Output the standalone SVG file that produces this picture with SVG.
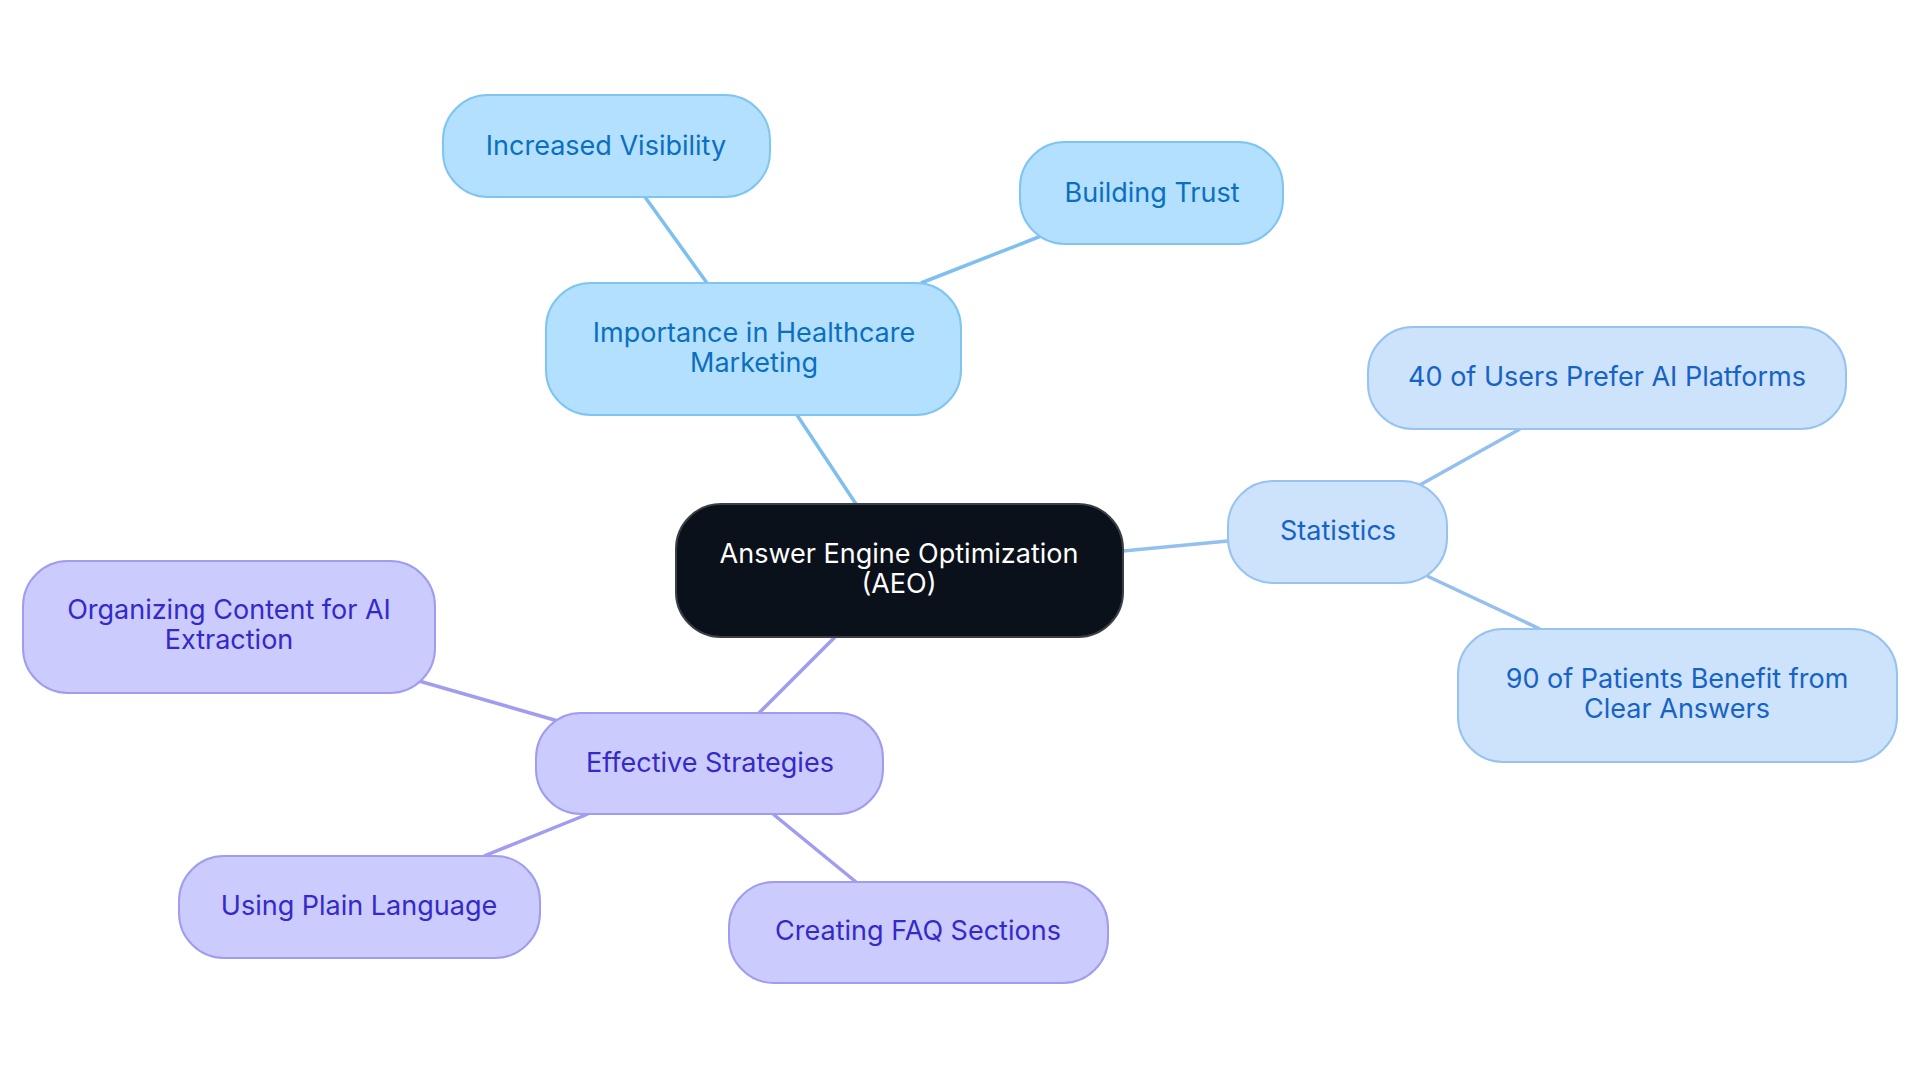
<svg xmlns="http://www.w3.org/2000/svg" width="1920" height="1083" viewBox="0 0 1920 1083">
<style>
text{font-family:Inter,"Noto Sans",sans-serif;font-size:27px;text-anchor:middle;dominant-baseline:central}
.b rect{fill:#b3e0ff;stroke:#7fc5f2;stroke-width:2}.b text{fill:#0b6fc0}
.s rect{fill:#cce3fb;stroke:#97c3f0;stroke-width:2}.s text{fill:#1762c6}
.p rect{fill:#cbcbfd;stroke:#a09cf0;stroke-width:2}.p text{fill:#3429c9}
.c rect{fill:#0b111a;stroke:#3a3f46;stroke-width:2}.c text{fill:#fff}
#edges line{stroke-width:3.5;fill:none}
</style>
<rect width="1920" height="1083" fill="#fff"/>
<g id="edges">
<line x1="856" y1="504" x2="797" y2="415" stroke="#7dbfef"/>
<line x1="707" y1="283" x2="645" y2="197" stroke="#7dbfef"/>
<line x1="921" y1="283" x2="1041" y2="236" stroke="#7dbfef"/>
<line x1="1123" y1="551" x2="1228" y2="541" stroke="#93c0ef"/>
<line x1="1418" y1="486" x2="1520" y2="429" stroke="#93c0ef"/>
<line x1="1427" y1="576" x2="1540" y2="629" stroke="#93c0ef"/>
<line x1="835" y1="637" x2="759" y2="713" stroke="#a09cf0"/>
<line x1="558" y1="721" x2="419" y2="681" stroke="#a09cf0"/>
<line x1="588" y1="814" x2="484" y2="856" stroke="#a09cf0"/>
<line x1="773" y1="814" x2="856" y2="882" stroke="#a09cf0"/>
</g>
<g id="center" class="c"><rect x="676" y="504" width="447" height="133" rx="45"/><text x="899" y="553">Answer Engine Optimization</text><text x="899" y="583">(AEO)</text></g>
<g id="importance" class="b"><rect x="546" y="283" width="415" height="132" rx="45"/><text x="754" y="332">Importance in Healthcare</text><text x="754" y="362">Marketing</text></g>
<g id="visibility" class="b"><rect x="443" y="95" width="327" height="102" rx="45"/><text x="606" y="145">Increased Visibility</text></g>
<g id="trust" class="b"><rect x="1020" y="142" width="263" height="102" rx="45"/><text x="1152" y="192">Building Trust</text></g>
<g id="statistics" class="s"><rect x="1228" y="481" width="219" height="102" rx="45"/><text x="1338" y="530">Statistics</text></g>
<g id="users" class="s"><rect x="1368" y="327" width="478" height="102" rx="45"/><text x="1607" y="376">40 of Users Prefer AI Platforms</text></g>
<g id="patients" class="s"><rect x="1458" y="629" width="439" height="133" rx="45"/><text x="1677" y="678">90 of Patients Benefit from</text><text x="1677" y="708">Clear Answers</text></g>
<g id="strategies" class="p"><rect x="536" y="713" width="347" height="101" rx="45"/><text x="710" y="762">Effective Strategies</text></g>
<g id="organizing" class="p"><rect x="23" y="561" width="412" height="132" rx="45"/><text x="229" y="609">Organizing Content for AI</text><text x="229" y="639">Extraction</text></g>
<g id="plain" class="p"><rect x="179" y="856" width="361" height="102" rx="45"/><text x="359" y="905">Using Plain Language</text></g>
<g id="faq" class="p"><rect x="729" y="882" width="379" height="101" rx="45"/><text x="918" y="930">Creating FAQ Sections</text></g>
</svg>
